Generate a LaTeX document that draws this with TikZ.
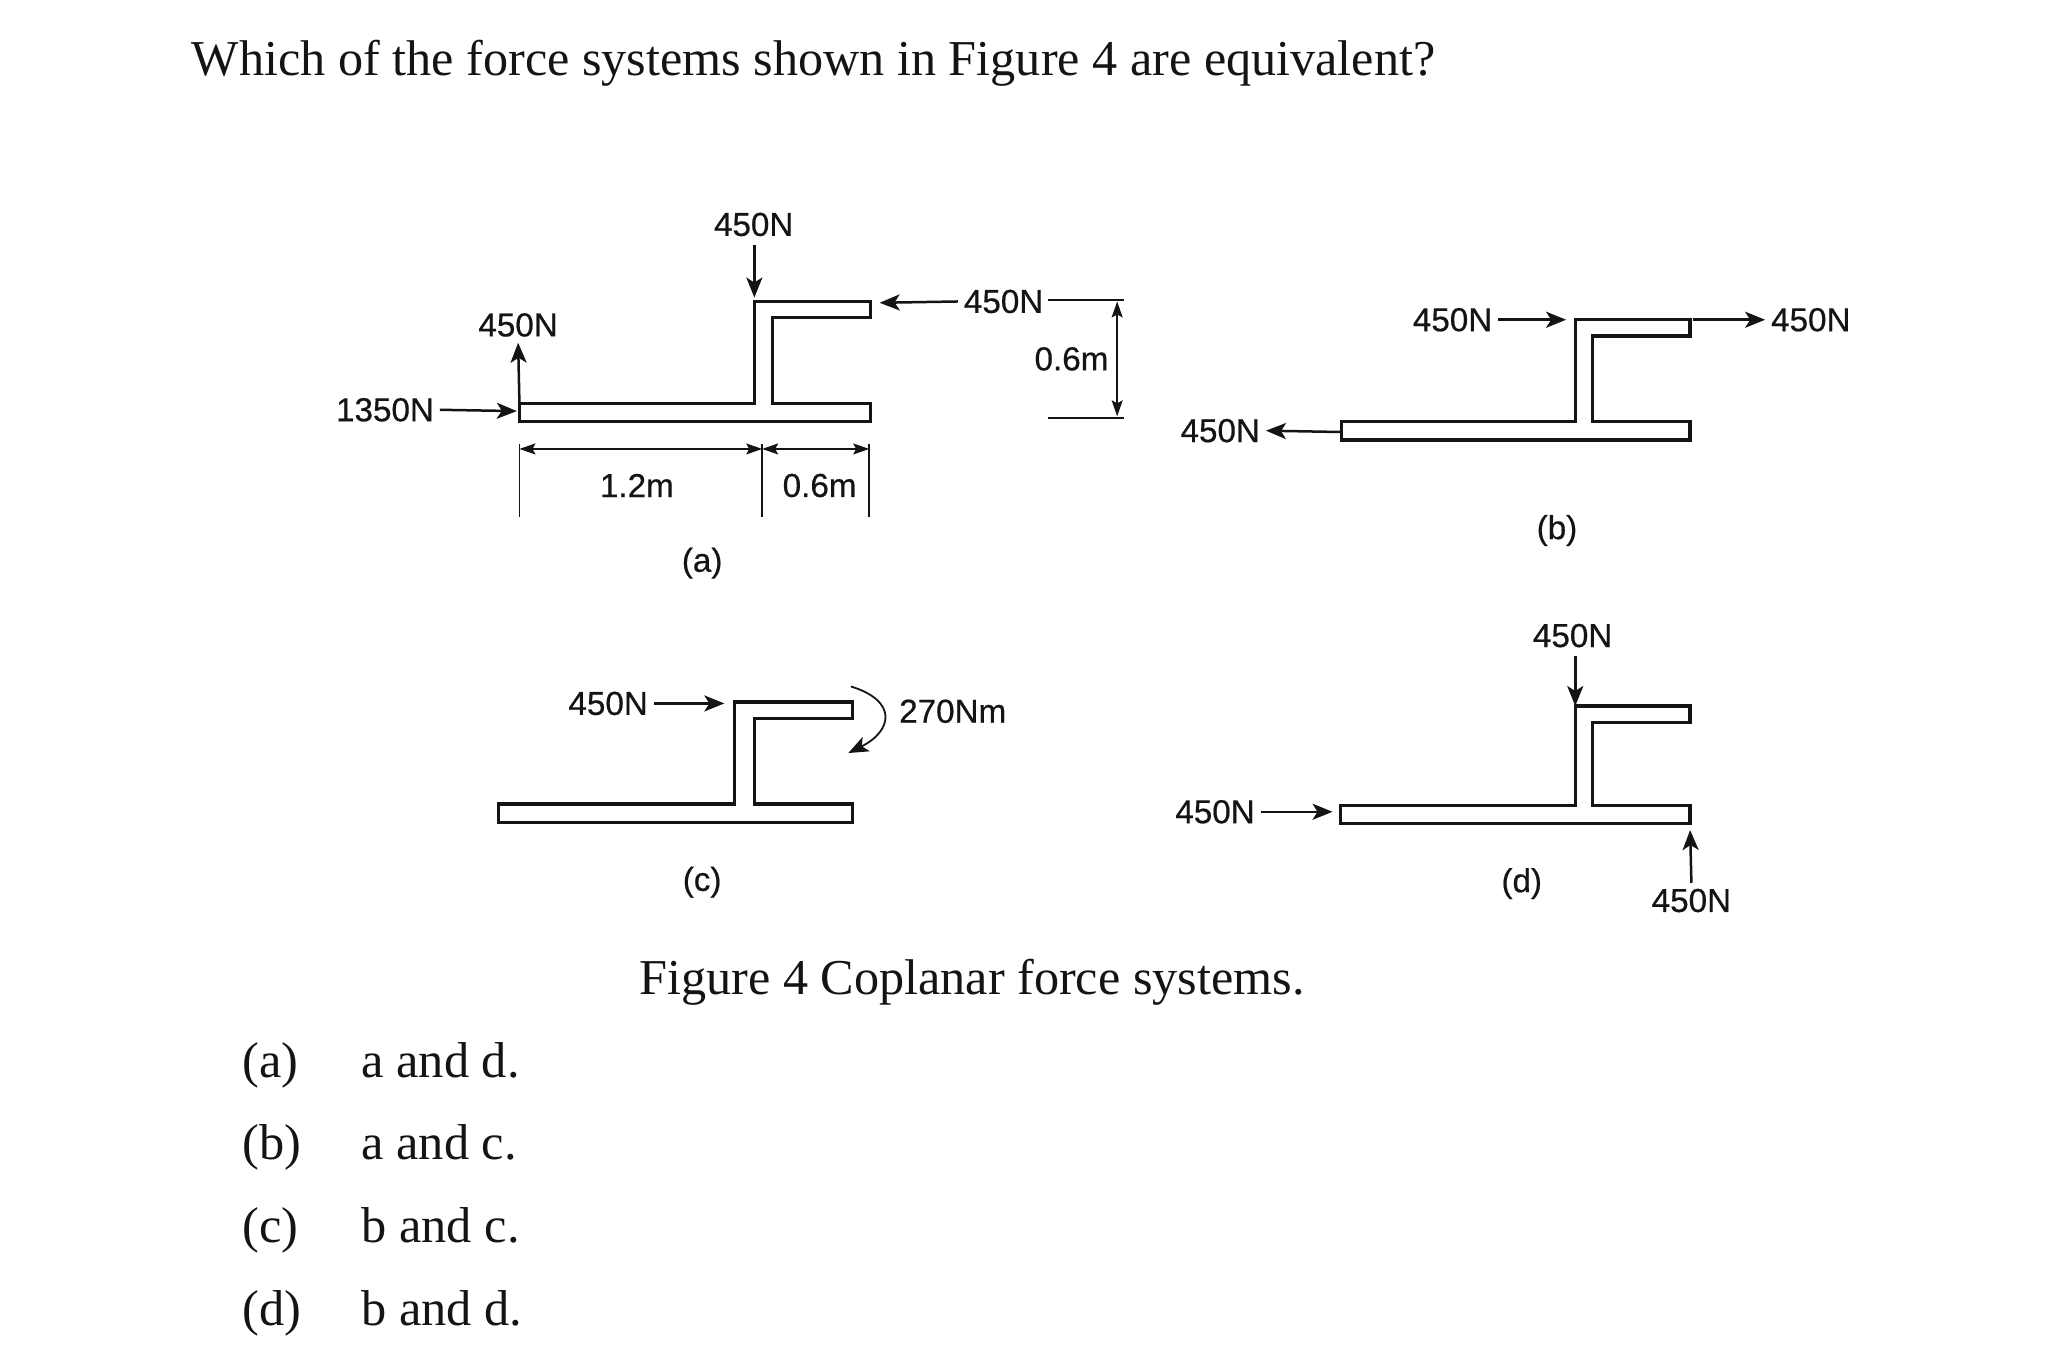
\documentclass[tikz,border=0pt]{standalone}
\usepackage{fontspec}
\setmainfont{Liberation Serif}
\newfontfamily\lab[RawFeature={embolden=0.5}]{Liberation Sans}
\usetikzlibrary{arrows.meta}
\definecolor{ink}{gray}{0.08}
\tikzset{
  profile/.style={draw=ink,line width=1.7pt,fill=white,line join=miter},
  force/.style={draw=ink,line width=1.25pt,-{Stealth[length=10pt,width=8pt,inset=2.5pt]}},
  dimen/.style={draw=ink,line width=0.7pt,{Stealth[length=8pt,width=5.5pt,inset=1.5pt]}-{Stealth[length=8pt,width=5.5pt,inset=1.5pt]}},
  ext/.style={draw=ink,line width=0.9pt},
  lbl/.style={font=\lab\fontsize{16.6}{18}\selectfont,text=ink,inner sep=0pt,outer sep=3pt},
  prose/.style={font=\fontsize{25.1}{30}\selectfont,text=ink,inner sep=0pt,outer sep=0pt,anchor=base west},
  option/.style={font=\fontsize{25.2}{29}\selectfont,text=ink,inner sep=0pt,outer sep=0pt,anchor=base west}
}
\newcommand{\beam}[6]{% left, right, web left, web right, flange top, bar top
  \draw[profile] (#1,#6) -- (#3,#6) -- (#3,#5) -- (#2,#5) -- (#2,#5+12.5) -- (#4,#5+12.5) -- (#4,#6) -- (#2,#6) -- (#2,#6+14) -- (#1,#6+14) -- cycle;
}
\begin{document}
\begin{tikzpicture}[x=0.6525pt,y=-0.6525pt]
\useasboundingbox (0,0) rectangle (1567.7,1043.6);
\fill[white] (0,0) rectangle (1567.7,1043.6);

\node[prose] (title) at (147,58) {Which of the force systems shown in Figure 4 are equivalent?};

% (a)
\beam{398}{667}{578}{592}{231}{309}
\node[lbl] (aTop) at (577.5,172) {450N};
\coordinate (aTopTip) at (578,228);
\draw[force] (aTop.south) ++(0.5,2) -- (aTopTip);
\node[lbl] (aUp) at (397,249) {450N};
\coordinate (aUpFoot) at (398,309);
\draw[force] (aUpFoot) -- (aUp.south);
\node[lbl] (aLeft) at (295,314) {1350N};
\coordinate (aLeftTip) at (396,315);
\draw[force] (aLeft.east) -- (aLeftTip);
\node[lbl] (aRight) at (769,231) {450N};
\coordinate (aRightTip) at (674,232);
\draw[force] (aRight.west) -- (aRightTip);
\coordinate (aR1) at (803,230); \coordinate (aR2) at (861,230);
\coordinate (aR3) at (803,320); \coordinate (aR4) at (861,320);
\draw[ext] (aR1) -- (aR2);
\draw[ext] (aR3) -- (aR4);
\coordinate (aV1) at (856,231); \coordinate (aV2) at (856,319);
\draw[dimen] (aV1) -- (aV2);
\node[lbl] (aDimV) at (821,275) {0.6m};
\coordinate (aE1) at (398,340); \coordinate (aE1b) at (398,396);
\coordinate (aE2) at (584,340); \coordinate (aE2b) at (584,396);
\coordinate (aE3) at (666,340); \coordinate (aE3b) at (666,396);
\draw[ext] (aE1) -- (aE1b);
\draw[ext] (aE2) -- (aE2b);
\draw[ext] (aE3) -- (aE3b);
\coordinate (aD1) at (398,344); \coordinate (aD2) at (584,344); \coordinate (aD3) at (666,344);
\draw[dimen] (aD1) -- (aD2);
\draw[dimen] (aD2) -- (aD3);
\node[lbl] (aDim1) at (488,372) {1.2m};
\node[lbl] (aDim2) at (628,372) {0.6m};
\node[lbl] (aCap) at (538,431.5) {(a)};

% (b)
\beam{1028}{1295}{1207}{1220}{245}{323}
\node[lbl] (bLeft) at (1113,245) {450N};
\coordinate (bLeftTip) at (1200,245);
\draw[force] (bLeft.east) -- (bLeftTip);
\coordinate (bRightFoot) at (1297,245);
\node[lbl] (bRight) at (1387.5,245) {450N};
\draw[force] (bRightFoot) -- (bRight.west);
\coordinate (bLowFoot) at (1027,331);
\node[lbl] (bLow) at (935,330) {450N};
\draw[force] (bLowFoot) -- (bLow.east);
\node[lbl] (bCap) at (1193,406.5) {(b)};

% (c)
\beam{382}{653}{563}{578}{538}{616}
\node[lbl] (cLeft) at (466,539) {450N};
\coordinate (cLeftTip) at (555,539);
\draw[force] (cLeft.east) -- (cLeftTip);
\coordinate (cA) at (652,526); \coordinate (cB) at (650,577);
\draw[force,line width=0.9pt] (cA) .. controls (688,537) and (684,560) .. (cB);
\node[lbl] (cMom) at (730,545) {270Nm};
\node[lbl] (cCap) at (538,676) {(c)};

% (d)
\beam{1027}{1295}{1207}{1220}{541}{617}
\node[lbl] (dTop) at (1205,487) {450N};
\coordinate (dTopTip) at (1207,541);
\draw[force] (dTop.south) ++(2,2) -- (dTopTip);
\node[lbl] (dLeft) at (931,622) {450N};
\coordinate (dLeftTip) at (1021,622);
\draw[force] (dLeft.east) -- (dLeftTip);
\node[lbl] (dBot) at (1296,690) {450N};
\coordinate (dBotTip) at (1295,636);
\draw[force] (dBot.north) -- (dBotTip);
\node[lbl] (dCap) at (1166,677) {(d)};

% caption and options
\node[prose] (fig) at (490,762) {Figure 4 Coplanar force systems.};
\node[option] (o1) at (186,825.5) {(a)};
\node[option] (t1) at (277,825.5) {a and d.};
\node[option] (o2) at (186,888.7) {(b)};
\node[option] (t2) at (277,888.7) {a and c.};
\node[option] (o3) at (186,951.8) {(c)};
\node[option] (t3) at (277,951.8) {b and c.};
\node[option] (o4) at (186,1015.5) {(d)};
\node[option] (t4) at (277,1015.5) {b and d.};
\end{tikzpicture}
\end{document}
